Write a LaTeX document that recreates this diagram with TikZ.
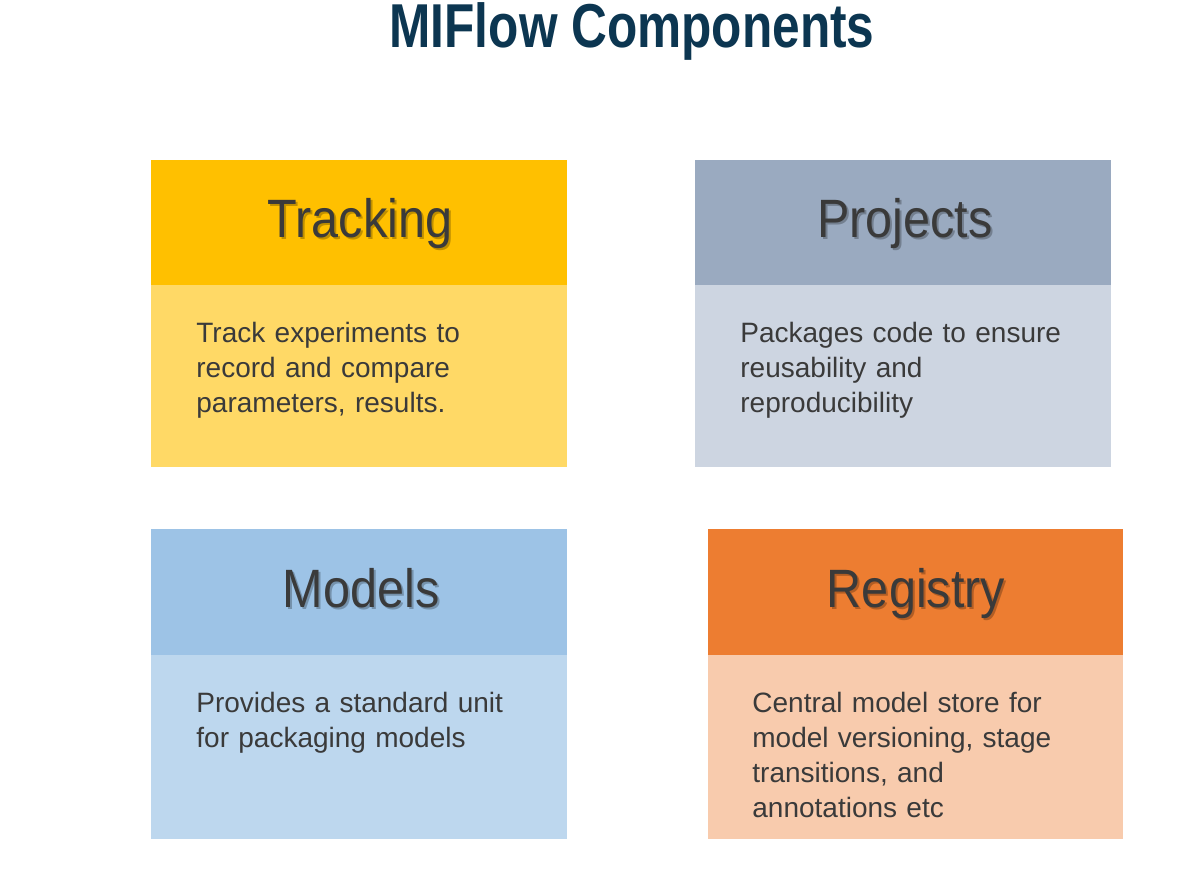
\documentclass[tikz,border=0pt]{standalone}
\usepackage{fontspec}
\setmainfont{Liberation Sans}
\newfontfamily\titlefont[FakeStretch=0.8]{Liberation Sans}
\newfontfamily\hdrfont[FakeStretch=0.9]{Liberation Sans}
\definecolor{titlecol}{HTML}{0C3651}
\definecolor{txt}{HTML}{3A3A3A}
\definecolor{trackH}{HTML}{FFC000}
\definecolor{trackB}{HTML}{FFD966}
\definecolor{projH}{HTML}{9AAAC0}
\definecolor{projB}{HTML}{CDD5E1}
\definecolor{modH}{HTML}{9DC3E6}
\definecolor{modB}{HTML}{BDD7EE}
\definecolor{regH}{HTML}{ED7D31}
\definecolor{regB}{HTML}{F8CBAD}
\begin{document}
\begin{tikzpicture}[x=0.5pt,y=-0.5pt,
  hdr/.style={rectangle, inner sep=0pt, outer sep=0pt, minimum width=208pt, minimum height=63pt, anchor=north west},
  bdy/.style={rectangle, inner sep=0pt, outer sep=0pt, minimum width=208pt, minimum height=92pt, anchor=north west},
  htext/.style={font=\hdrfont\fontsize{27}{30}\selectfont, text=txt, anchor=base, inner sep=0pt},
  hshadow/.style={font=\hdrfont\fontsize{27}{30}\selectfont, text=black, opacity=0.25, anchor=base, inner sep=0pt},
  btext/.style={font=\fontsize{14}{17.5}\selectfont, text=txt, align=left, text width=200pt, anchor=base west, inner sep=0pt}]
\useasboundingbox (0,0) rectangle (1187,887);
\fill[white] (0,0) rectangle (1187,887);

\node[anchor=base, inner sep=0pt, text=titlecol, font=\titlefont\bfseries\fontsize{31}{34}\selectfont] (title) at (632,48) {MIFlow Components};

% Tracking
\node[hdr, fill=trackH] (trH) at (151,160) {};
\node[bdy, fill=trackB, minimum height=91pt] (trB) at (151,285) {};
\node[hshadow] (trS) at (362,240) {Tracking};
\node[htext] (trT) at (360,238) {Tracking};
\node[btext] (trX) at (196,343) {Track experiments to\\record and compare\\parameters, results.};

% Projects
\node[hdr, fill=projH] (prH) at (695,160) {};
\node[bdy, fill=projB, minimum height=91pt] (prB) at (695,285) {};
\node[hshadow] (prS) at (907,240) {Projects};
\node[htext] (prT) at (905,238) {Projects};
\node[btext] (prX) at (740,343) {Packages code to ensure\\reusability and\\reproducibility};

% Models
\node[hdr, fill=modH] (moH) at (151,529) {};
\node[bdy, fill=modB] (moB) at (151,655) {};
\node[hshadow] (moS) at (363,609) {Models};
\node[htext] (moT) at (361,607) {Models};
\node[btext] (moX) at (196,712) {Provides a standard unit\\for packaging models};

% Registry
\node[hdr, fill=regH, minimum width=207.5pt] (reH) at (708,529) {};
\node[bdy, fill=regB, minimum width=207.5pt] (reB) at (708,655) {};
\node[hshadow] (reS) at (918,609) {Registry};
\node[htext] (reT) at (916,607) {Registry};
\node[btext] (reX) at (752,712) {Central model store for\\model versioning, stage\\transitions, and\\annotations etc};
\end{tikzpicture}
\end{document}
